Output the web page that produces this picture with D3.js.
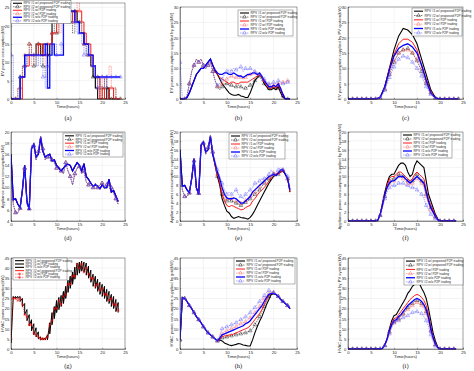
<!DOCTYPE html>
<html><head><meta charset="utf-8">
<script src="https://cdn.jsdelivr.net/npm/d3@7"></script>
<style>body{margin:0;background:#fff}svg{display:block}</style>
</head><body><svg id="c" width="474" height="371"></svg>
<script>
// ---------- time grids ----------
const H48 = [0,0.5,1,1.5,2,2.5,3,3.5,4,4.5,5,5.5,6,6.5,7,7.5,8,8.5,9,9.5,10,10.5,11,11.5,12,12.5,13,13.5,14,14.5,15,15.5,16,16.5,17,17.5,18,18.5,19,19.5,20,20.5,21,21.5,22,22.5,23,23.5];
const H49 = [0,0.5,1,1.5,2,2.5,3,3.5,4,4.5,5,5.5,6,6.5,7,7.5,8,8.5,9,9.5,10,10.5,11,11.5,12,12.5,13,13.5,14,14.5,15,15.5,16,16.5,17,17.5,18,18.5,19,19.5,20,20.5,21,21.5,22,22.5,23,23.5,24];
const H25 = [0,1,2,3,4,5,6,7,8,9,10,11,12,13,14,15,16,17,18,19,20,21,22,23,24];
const xTicks = [0,5,10,15,20,25];
const seriesNames = ["RPV #1 w/ proposed P2P trading","RPV #2 w/ proposed P2P trading","RPV #1 w/ P2P trading","RPV #2 w/ P2P trading","RPV #1 w/o P2P trading","RPV #2 w/o P2P trading"];
const gNames = ["RPV #1 w/ proposed P2P trading","RPV #1 w/ P2P trading","RPV #1 w/o P2P trading","RPV #2 w/ proposed P2P trading","RPV #2 w/ P2P trading","RPV #2 w/o P2P trading"];

// ---------- (a) EV consumption (stairs) ----------
const a1 = [0,0,0,0,6,6,12,12,12,12,12,15,15,12,15,15,12,15,21,21,21,21,21,24,24,24,24,24,24,21,18,18,15,15,12,9,6,3,0,0,0,0,3,0,0,0,0,0,0];
const a2 = [0,0,0,3,6,9,9,12,15,12,9,12,15,12,9,6,12,15,18,21,18,21,24,21,24,24,21,18,24,21,21,18,15,12,12,9,6,3,6,0,3,6,3,0,0,3,0,0,0];
const a3 = [0,0,0,0,0,6,9,9,12,12,12,12,15,15,12,12,15,15,18,18,21,21,21,21,24,24,24,21,24,24,24,21,18,15,15,12,9,6,6,0,3,0,0,3,3,0,0,0,0];
const a4 = [0,0,0,3,3,9,12,12,15,9,12,15,15,12,12,9,15,15,18,18,21,18,21,21,24,21,24,24,21,27,24,18,15,15,12,9,9,6,3,3,6,3,6,9,3,3,0,0,0];
const a5 = [0,0,0,0,6,6,12,12,12,12,12,12,12,12,12,15,3,12,15,12,12,12,12,24,21,24,24,24,21,21,18,18,15,15,12,12,9,6,6,6,6,6,6,6,6,6,6,6,6];
const a6 = [12,0,0,0,6,6,9,12,12,12,12,9,12,9,6,3,9,12,15,15,12,12,15,24,21,21,24,21,21,18,18,15,12,15,12,9,9,6,3,6,6,3,6,6,6,6,6,6,6];

// ---------- (b) EV from grid ----------
const b1 = [0,0,0,0.5,2,4,6,8,9,10,10,11,12,13,11,9,8,6.5,5,4,3,2,1.5,1.2,1.2,1.5,1,0.8,0.5,0.5,2,4,6,7,8,7,5,4,3,3,3.5,3,4,2,0.5,0,0,0];
const b2 = [0,0,0,1,5,9,11,13,12,13,11,10,11,12,9,6,4,3,4,5,5,4.5,4.5,4,4,4.5,4,3.5,3.5,4,4.5,5,6,6.5,7.5,6,5,4,3.5,3.5,4,3,3.5,3,1,0,0,0];
const b3 = [0,0,0,0.5,2,4,6,8,9,10,10,11,12,13,11,9,8,7,6.5,6,5.5,5,5.5,5.5,5,5,5.5,5.5,5.5,5.5,6,6.5,7,7.5,8,7,5.5,4.5,3.5,3.5,4,3.5,4.5,3,1,0,0,0];
const b4 = [0,0,0,1,5,9,11,13,12,13,11,10,11,12,9,6,4,4,5,6,6.5,7,7.5,7,7,7.5,7,6.5,7,7.5,8,8,8.5,7.5,8,7,6,5,4.5,4,4.5,4,5,5,5.5,5.5,6,6];
const b5 = [0,0,0,0.5,2,4,6,8,9,10,10,11,12,13,11,9.5,8.5,8,8,8.5,8.5,8,8,8.5,8,7.5,7.5,7,7.5,8,8,8.5,8.5,8,8.5,7.5,6,5,4,4,4.5,4,5,3.5,1.5,0,0,0];
const b6 = [12,0,0,1,5,9,11,13,12,13,11,10,11,12,9,6,4.5,5,6.5,8,9,9.5,9,10,9.5,10,10.5,9,10,9.5,10,9.5,9,8.5,8,7,6.5,5.5,5,5,5.5,5,6,5.5,5,5,5.5,5.5];

// ---------- (c) EV from PV (hourly) ----------
const c1 = [0,0,0,0,0,0,0,0.5,4,10,16,20.5,23,22.5,21,18,13,8,3,0.5,0,0,0,0,0];
const c2 = [0,0,0,0,0,0,0,0.3,3,8,12,15,16,16.5,15,12.5,9,5,2,0.3,0,0,0,0,0];
const c3 = [0,0,0,0,0,0,0,0.5,4,10,14.5,18,19.5,19.5,18.5,16,11,6.5,2.5,0.3,0,0,0,0,0];
const c4 = [0,0,0,0,0,0,0,0.4,3.5,8.5,12.5,15,16,16,15,13,10,5.5,2,0.2,0,0,0,0,0];
const c5 = [0,0,0,0,0,0,0,0.5,4,9.5,14,16.5,17.5,18,17,15,11,6,2,0.3,0,0,0,0,0];
const c6 = [0,0,0,0,0,0,0,0.3,3,7,10.5,13,14,13.5,12,10,7.5,4,1.5,0.2,0,0,0,0,0];

// ---------- (d) appliance consumption ----------
const dRpv1 = [16,7.8,8,7,6.4,9.5,14,7.5,6,17,17.8,15.5,16,19,16.5,15.5,15.8,16,14.8,15,14,13.5,13,13.5,14,14.2,14,13,13.8,14.5,14,13,14.3,12,11.5,10.8,10.2,10.5,10.3,9.8,10.5,10,10,11.5,9.2,9.5,8.5,7.5];
const dRpv2 = [12.5,7,5.5,5.5,6.3,9.8,13.5,7,6.2,17.5,17.5,15,16.5,19.3,17,15,15.5,15.5,15,14.5,13.5,13.8,13,12.5,14.5,13,12,10.5,12.5,13.5,13.8,12.5,13,11,10.5,11,10,10.8,10,10.5,10.8,9.8,10.5,11,10,9,8,7];

// ---------- (e) appliance from grid: afternoon parts (7h..23.5h) ----------
const e1Tail = [15,12.5,10,8,5,3.5,2.2,1.8,1,0.6,0.8,1,0.8,0.7,0.6,0.4,0.8,1.5,2.4,3.5,4.5,5.5,6.5,7.5,8.5,9.3,10,10.5,10.7,11,11.3,10.5,9.5,6.5];
const e2Tail = [15.5,12.5,10,8.5,6,5,4.5,4.8,4.5,4.3,4,3.8,3.5,3.8,4.2,4.5,5,5.5,6,6.5,7,7.8,8.5,9,9.5,10,10.5,10.2,10.5,11,11.3,10.5,9.5,7];
const e3Tail = [15,12.5,10.5,8.5,6,4.5,3.5,3.2,3.5,3.3,3,2.8,2.5,2.6,3,3.3,3.5,4.5,5,5.8,6.5,7,7.5,8.2,9,9.8,10.3,10.5,10.5,11,11.2,10.5,9.5,6.5];
const e4Tail = [15.5,12.5,10.5,9,7,5.5,5,5.2,5,5.2,4.5,4.2,4,4.2,4.6,5,5.5,6,6.5,7.2,7.8,8.3,8.8,9.3,9.8,10.3,10.8,10.5,10.8,11.2,11.5,10.5,9.5,7];
const e5Tail = [15,13,11,9.5,7.5,6,5.2,5,5,5.2,5,4.5,4,4,4.5,5,5.5,6.5,7,7.5,8,8.5,9,9.5,10,10.2,10.5,10.2,10.8,11.5,11.5,10.5,9.5,7];
const e6Tail = [15.5,13.5,11.5,10,8.5,7,6,6.5,6,6.5,7,6,5.5,5,6,6.5,7,7.5,8.5,8.5,9,9.5,9.5,10,10.5,11.5,10.5,11,11.5,12,11.5,11,10,7.5];

// ---------- (f) appliance from PV ----------
const f1 = [0,0,0,0,0,0,0,0,0,0,0,0,0,0.2,1.5,4,6.5,8.5,10,10.5,10.5,11.5,12.5,13,13,12.5,11,10,10.5,12.5,13.5,13,12.5,12,9,6,4.5,3,1.5,0.5,0,0,0,0,0,0,0,0];
const f2 = [0,0,0,0,0,0,0,0,0,0,0,0,0,0.2,1.3,3.5,5.5,7.5,9,9.5,9.5,10,10.5,10.5,10,9.5,9,8.5,9,10,10.5,10,9,8,6,4,3,2,1,0.3,0,0,0,0,0,0,0,0];
const f3 = [0,0,0,0,0,0,0,0,0,0,0,0,0,0.2,1.5,4,6,8,9.5,10,10,10.5,11,11,10.5,10,9.5,9,9.5,10.5,11,10.5,10,9.5,7,5,3.5,2.5,1.2,0.4,0,0,0,0,0,0,0,0];
const f4 = [0,0,0,0,0,0,0,0,0,0,0,0,0,0.2,1.3,3.5,5.5,7.5,8.5,9,9,9.5,10,10,9.5,9,8.5,8,8.5,9,9.5,9,8.5,7.5,5.5,4,2.5,1.8,0.8,0.2,0,0,0,0,0,0,0,0];
const f5 = [0,0,0,0,0,0,0,0,0,0,0,0,0,0.2,1.5,3.5,6,7.5,8.5,9,9,9.5,10,10,10,9.5,9,8.5,9,9.5,10,9.5,9,8.5,6.5,4.5,3,2,1,0.3,0,0,0,0,0,0,0,0];
const f6 = [0,0,0,0,0,0,0,0,0,0,0,0,0,0.2,1.2,3,5,6.5,7.5,8,8,8,8.5,8.5,8.5,8,8,7.5,7.5,7.5,7,6.5,6,5,3.5,2.5,1.5,1,0.5,0.1,0,0,0,0,0,0,0,0];

// ---------- (g) HVAC consumption ----------
const gHi = [5,26,26,26,26,25,22.5,19.5,17,14.5,12.5,10.5,8.5,6,5.5,5.5,7,13,18,21,24,25.5,26.5,28.5,31,34,36,38,40.5,42.5,43,43.5,43,42.5,41,39,37,36,34.5,33,32,31,29.5,28.5,27,26,24.5,23];
const gLo = [3,25,25,25,23.5,21,17,14,11.5,9,7,6,5,4.5,4.5,4.5,4.5,7.5,12,15,18,19.5,21,22.5,25,28,30,32,34.5,36.5,37.5,38.5,38,36.5,35,33,31,30,28.5,27,26,25,23.5,22.5,21,20,18.5,18];
const gRed = [5,25,25,24,25,22,17,16,12,12,8,7,6,5,5,5,6,12,14,20,20,24,22,26,27,32,32,36,36,42,40,42,38,40,37,35,35,31,32,29,30,27,27,24,25,22,22,19];

// ---------- (h) HVAC from grid ----------
const hEarly = [4.5,25.5,25,23.5,21.5,20,18,16,14.5,13,11,9.5,8,7,6,5,4];
const h1Tail = [4.5,4,3,2.5,2,1.7,2,2.3,2.7,2.5,2,1.8,1.5,1.5,4.5,8,11,13.7,16,19,22,24.5,27,27.5,27,26,24.5,23.5,22.5,21.5,20];
const h2Tail = [5,5.5,5.5,6,6.5,6.5,7,7,7.5,7.5,8,8,8.5,9,10,12,14,16,18.5,21,23.5,26,27,27.5,27,26,24.5,23.5,22.5,21.5,20];
const h3Tail = [5,6,6.5,6.5,7,7,7.5,8,8.5,9,9.5,10,10.5,11.5,13,14.5,16,17.5,19.5,22,24.5,26.5,27.5,27.5,27,26,24.5,23.5,22.5,21.5,20];
const h4Tail = [6,7.5,8.5,9,9.5,10,10.5,11,12,12.5,13,13.5,14.5,15.5,16.5,18,19.5,21,23,25,26.5,27.5,28,28,27,26,24.5,23.5,22.5,21.5,20];
const h5Tail = [5.5,7,7.5,8,8.5,9,9.5,10,10.5,11,11.5,12.5,13,14,15.5,17,18.5,20,21.5,23.5,25.5,27,27.5,27.5,27,26,24.5,23.5,22.5,21.5,20];
const h6Tail = [7,10,10.5,11,11.5,12,12.5,13,14,14.5,15,16,17,18,19.5,20.5,22,23.5,25,26.5,28,29,28.5,28,27,26,24.5,23.5,22.5,21.5,20.5];

// ---------- (i) HVAC from PV ----------
const i1 = [0,0,0,0,0,0,0,0,0,0,0,0,0,0,0,0.3,2,5,10,14,16.5,17,19,21,23,25,27.5,29,31,32,33,32.5,30,28,25,20,14,8,4,1,0,0,0,0,0,0,0,0];
const i2 = [0,0,0,0,0,0,0,0,0,0,0,0,0,0,0,0.3,1.8,4.5,8.5,11.5,13.5,14,15,16.5,17.5,19,20.5,21.5,22.5,23.5,24,23.5,22.5,21,18.5,14.5,9,5,2.2,0.6,0,0,0,0,0,0,0,0];
const i3 = [0,0,0,0,0,0,0,0,0,0,0,0,0,0,0,0.3,2,5,9.5,13,15,15.5,17,18.5,20,21.5,23,24.5,25.5,26.5,27,26.5,25.5,24,21.5,17,11,6,3,0.8,0,0,0,0,0,0,0,0];
const i4 = [0,0,0,0,0,0,0,0,0,0,0,0,0,0,0,0.3,1.8,4.5,8,11,13,13.5,14.5,16,17,18.5,19.5,20.5,21.5,22.5,23,22.5,21.5,20,17.5,13.5,8.5,4.5,2,0.5,0,0,0,0,0,0,0,0];
const i5 = [0,0,0,0,0,0,0,0,0,0,0,0,0,0,0,0.3,2,5,9,12,14,14.5,16,17,18.5,20,21.5,22.5,23.5,24.5,25,24.5,23.5,22,19.5,15.5,10,5.5,2.5,0.7,0,0,0,0,0,0,0,0];
const i6 = [0,0,0,0,0,0,0,0,0,0,0,0,0,0,0,0.2,1.5,4,7.5,10.5,13,13.5,14,15,15.5,16,16.5,17.5,18,18.5,18.5,18,17.5,16,14,11,7,3.5,1.5,0.4,0,0,0,0,0,0,0,0];

// ---------- styles ----------
const FONT = "'Liberation Sans', Arial, sans-serif";
const STY = {
  k1:{c:'#000000',w:1.1},
  k2:{c:'#000000',w:0.5,d:'1.5,0.8',m:'tri'},
  r1:{c:'#ff0000',w:0.9},
  r2:{c:'#ff5050',w:0.5,d:'1.5,0.8',m:'tri'},
  b1:{c:'#0000ff',w:1.3},
  b2:{c:'#5050ff',w:0.5,d:'1.5,0.8',m:'tri'},
  rs:{c:'#ff0000',w:0.5,d:'1.5,0.8',m:'star'}
};
const STD = ['k1','k2','r1','r2','b1','b2'];

const svg = d3.select('#c');
let clipN = 0;

function panel(p){
  const x = d3.scaleLinear().domain([0,25]).range([p.x0,p.x1]);
  const y = d3.scaleLinear().domain(p.yd).range([p.y1,p.y0]);
  const g = svg.append('g');
  g.append('rect').attr('x',p.x0).attr('y',p.y0).attr('width',p.x1-p.x0).attr('height',p.y1-p.y0).attr('fill','#fff');
  g.append('g').selectAll('line').data(xTicks).join('line')
    .attr('x1',d=>x(d)).attr('x2',d=>x(d)).attr('y1',p.y0).attr('y2',p.y1)
    .attr('stroke','#e4e4e4').attr('stroke-width',0.4);
  g.append('g').selectAll('line').data(p.yt).join('line')
    .attr('y1',d=>y(d)).attr('y2',d=>y(d)).attr('x1',p.x0).attr('x2',p.x1)
    .attr('stroke','#e4e4e4').attr('stroke-width',0.4);
  const cid = 'clp'+(clipN++);
  svg.append('clipPath').attr('id',cid).append('rect')
    .attr('x',p.x0).attr('y',p.y0-1).attr('width',p.x1-p.x0).attr('height',p.y1-p.y0+1.5);
  const sg = g.append('g').attr('clip-path',`url(#${cid})`);
  p.series.forEach(s=>{
    const st = STY[s.st];
    const pts = s.x.map((t,i)=>[t,s.y[i]]);
    const line = d3.line().x(d=>x(d[0])).y(d=>y(d[1])).curve(p.step?d3.curveStepAfter:d3.curveLinear);
    sg.append('path').attr('d',line(pts)).attr('fill','none')
      .attr('stroke',st.c).attr('stroke-width',s.w||st.w).attr('stroke-dasharray',st.d||null);
    if(st.m){
      const every = s.every||2;
      const mp = pts.filter((d,i)=>i%every===0);
      const sym = st.m==='tri' ? d3.symbol(d3.symbolTriangle).size(6) : d3.symbol(d3.symbolAsterisk||d3.symbolCross).size(7);
      sg.append('g').selectAll('path').data(mp).join('path')
        .attr('transform',d=>`translate(${x(d[0])},${y(d[1])})`)
        .attr('d',sym).attr('fill','none').attr('stroke',st.c).attr('stroke-width',0.4);
    }
  });
  const ax = g.append('g').attr('transform',`translate(0,${p.y1})`)
    .call(d3.axisBottom(x).tickValues(xTicks).tickSize(-1.2).tickPadding(1.8));
  const ay = g.append('g').attr('transform',`translate(${p.x0},0)`)
    .call(d3.axisLeft(y).tickValues(p.yt).tickSize(-1.2).tickPadding(1.6));
  [ax,ay].forEach(a=>{
    a.selectAll('text').attr('font-size',4.2).attr('font-family',FONT).attr('fill','#262626');
    a.select('.domain').attr('stroke','#262626').attr('stroke-width',0.4);
    a.selectAll('.tick line').attr('stroke','#262626').attr('stroke-width',0.4);
  });
  g.append('rect').attr('x',p.x0).attr('y',p.y0).attr('width',p.x1-p.x0).attr('height',p.y1-p.y0)
    .attr('fill','none').attr('stroke','#262626').attr('stroke-width',0.4);
  g.append('text').attr('x',(p.x0+p.x1)/2).attr('y',p.y1+9.3).attr('text-anchor','middle')
    .attr('font-size',4.3).attr('font-family',FONT).attr('fill','#262626').text('Time(hours)');
  const yl = p.x0-7.5, ym=(p.y0+p.y1)/2;
  g.append('text').attr('transform',`translate(${yl},${ym}) rotate(-90)`).attr('text-anchor','middle')
    .attr('font-size',4.1).attr('font-family',FONT).attr('fill','#262626').text(p.ylabel);
  // legend
  const L = p.leg;
  const lg = g.append('g');
  lg.append('rect').attr('x',L.x).attr('y',L.y).attr('width',L.w).attr('height',L.h)
    .attr('fill','#fff').attr('stroke','#262626').attr('stroke-width',0.35);
  const rh = (L.h-2)/L.items.length;
  L.items.forEach((it,k)=>{
    const cy = L.y+1+rh*(k+0.5);
    const st = STY[it.st];
    lg.append('line').attr('x1',L.x+2).attr('x2',L.x+11).attr('y1',cy).attr('y2',cy)
      .attr('stroke',st.c).attr('stroke-width',st.w).attr('stroke-dasharray',st.d||null);
    if(st.m){
      const sym = st.m==='tri' ? d3.symbol(d3.symbolTriangle).size(6) : d3.symbol(d3.symbolAsterisk||d3.symbolCross).size(7);
      lg.append('path').attr('transform',`translate(${L.x+6.5},${cy})`).attr('d',sym)
        .attr('fill','none').attr('stroke',st.c).attr('stroke-width',0.4);
    }
    lg.append('text').attr('x',L.x+12.5).attr('y',cy+1.1).attr('font-size',3.2)
      .attr('font-family',FONT).attr('fill','#262626').text(it.t);
  });
  g.append('text').attr('x',(p.x0+p.x1)/2).attr('y',p.cy).attr('text-anchor','middle')
    .attr('font-size',6.5).attr('font-family',"'Liberation Serif', serif").attr('fill','#222').text(p.cap);
}

function std(xs, ys, every){ return ys.map((yv,k)=>({x:xs,y:yv,st:STD[k],every:every})); }
function stdLegend(){ return seriesNames.map((t,k)=>({t:t,st:STD[k]})); }

const C1=[11,125], C2=[180,297], C3=[348,463];

panel({x0:C1[0],x1:C1[1],y0:3,y1:99,yd:[0,26.2],yt:[0,5,10,15,20,25],step:true,
  ylabel:'EV power consumption(kW)',cap:'(a)',cy:120,
  leg:{x:11,y:0.5,w:60,h:23,items:stdLegend()},
  series:std(H49,[a1,a2,a3,a4,a5,a6],2)});
panel({x0:C2[0],x1:C2[1],y0:7,y1:99,yd:[0,30],yt:[0,5,10,15,20,25,30],
  ylabel:'EV power consumption supplied by grid(kW)',cap:'(b)',cy:120,
  leg:{x:238,y:10,w:55,h:26,items:stdLegend()},
  series:std(H48,[b1,b2,b3,b4,b5,b6],2)});
panel({x0:C3[0],x1:C3[1],y0:7,y1:99,yd:[0,30],yt:[0,5,10,15,20,25,30],
  ylabel:'EV power consumption supplied by PV system(kW)',cap:'(c)',cy:120,
  leg:{x:412,y:8,w:50,h:28,items:stdLegend()},
  series:std(H25,[c1,c2,c3,c4,c5,c6],1)});

panel({x0:C1[0],x1:C1[1],y0:132,y1:221,yd:[4,20],yt:[4,6,8,10,12,14,16,18,20],
  ylabel:'Appliance power consumption(kW)',cap:'(d)',cy:240,
  leg:{x:63,y:133,w:60,h:24,items:stdLegend()},
  series:std(H48,[dRpv1,dRpv2,dRpv1,dRpv2,dRpv1,dRpv2],2)});
panel({x0:C2[0],x1:C2[1],y0:132,y1:221,yd:[0,20],yt:[0,2,4,6,8,10,12,14,16,18,20],
  ylabel:'Appliance power consumption supplied by grid(kW)',cap:'(e)',cy:240,
  leg:{x:229,y:133,w:56,h:26,items:stdLegend()},
  series:std(H48,[
    dRpv1.slice(0,14).concat(e1Tail), dRpv2.slice(0,14).concat(e2Tail),
    dRpv1.slice(0,14).concat(e3Tail), dRpv2.slice(0,14).concat(e4Tail),
    dRpv1.slice(0,14).concat(e5Tail), dRpv2.slice(0,14).concat(e6Tail)],2)});
panel({x0:C3[0],x1:C3[1],y0:132,y1:221,yd:[0,20],yt:[0,2,4,6,8,10,12,14,16,18,20],
  ylabel:'Appliance power consumption supplied by PV system(kW)',cap:'(f)',cy:240,
  leg:{x:401,y:132,w:51,h:26,items:stdLegend()},
  series:std(H48,[f1,f2,f3,f4,f5,f6],2)});

// (g): black as vertical strokes hi/lo per half hour
const gPts = [];
H48.forEach((t,k)=>{ gPts.push([t,gHi[k]]); gPts.push([t,gLo[k]]); });
panel({x0:C1[0],x1:C1[1],y0:258,y1:349,yd:[0,45],yt:[0,5,10,15,20,25,30,35,40,45],
  ylabel:'HVAC power consumption(kW)',cap:'(g)',cy:368,
  leg:{x:13,y:258,w:54,h:22,items:[
    {t:gNames[0],st:'k1'},{t:gNames[1],st:'k1'},{t:gNames[2],st:'k1'},
    {t:gNames[3],st:'r1'},{t:gNames[4],st:'rs'},{t:gNames[5],st:'rs'}]},
  series:[{x:gPts.map(d=>d[0]),y:gPts.map(d=>d[1]),st:'k1',w:1.0},
          {x:H48,y:gRed,st:'rs',every:1}]});
panel({x0:C2[0],x1:C2[1],y0:258,y1:349,yd:[0,45],yt:[0,5,10,15,20,25,30,35,40,45],
  ylabel:'HVAC power consumption supplied by grid(kW)',cap:'(h)',cy:368,
  leg:{x:234,y:258,w:61,h:26,items:stdLegend()},
  series:std(H48,[hEarly.concat(h1Tail),hEarly.concat(h2Tail),hEarly.concat(h3Tail),
                  hEarly.concat(h4Tail),hEarly.concat(h5Tail),hEarly.concat(h6Tail)],2)});
panel({x0:C3[0],x1:C3[1],y0:258,y1:349,yd:[0,45],yt:[0,5,10,15,20,25,30,35,40,45],
  ylabel:'HVAC power consumption supplied by PV system(kW)',cap:'(i)',cy:368,
  leg:{x:404,y:258,w:59,h:27,items:stdLegend()},
  series:std(H48,[i1,i2,i3,i4,i5,i6],2)});
</script></body></html>
